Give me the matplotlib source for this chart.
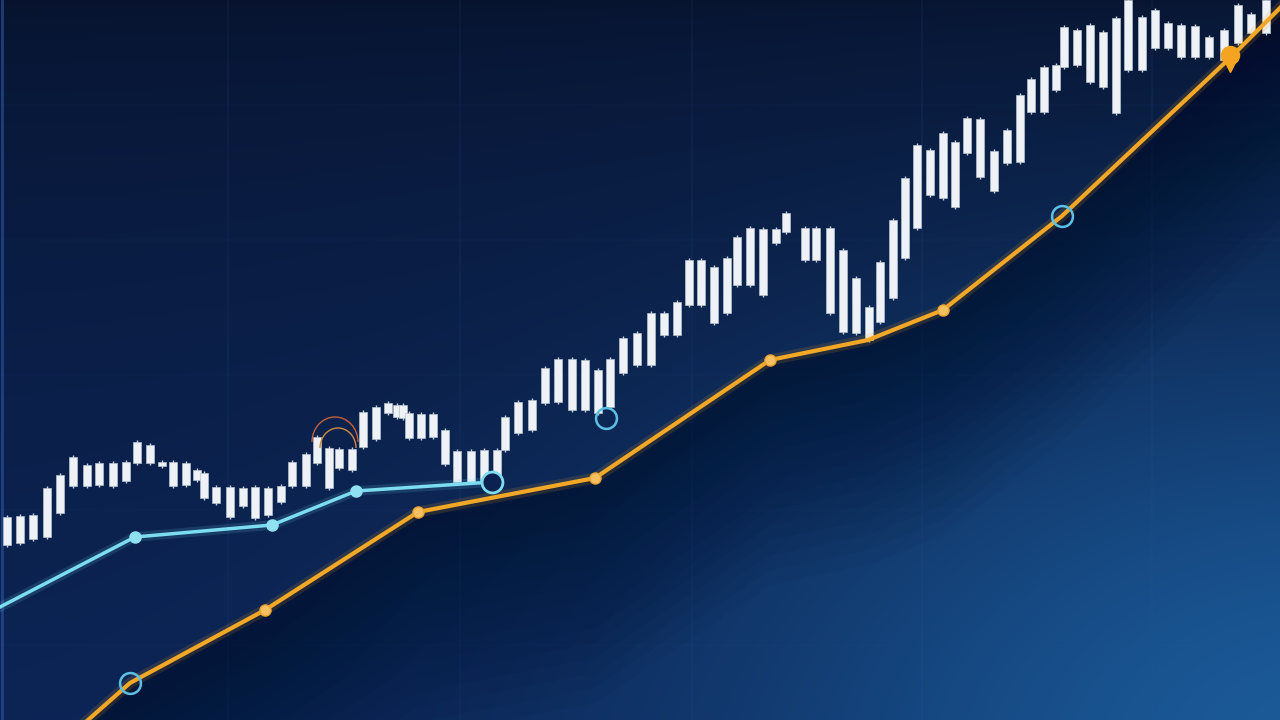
import numpy as np
import matplotlib
matplotlib.use("Agg")
import matplotlib.pyplot as plt
from matplotlib.colors import to_rgb
from matplotlib.patches import Arc

# candle positions and bodies (chart units, y up)
candle_x = [7, 20, 33, 47, 60, 73, 87, 99, 113, 126, 137, 150, 162, 173, 186, 197, 204,
            216, 230, 243, 255, 268, 281, 292, 306, 317, 329, 339, 352, 363, 376, 388,
            397, 403, 409, 421, 433, 445, 457, 471, 484, 497, 505, 518, 532, 545, 558,
            572, 585, 598, 610, 623, 637, 651, 664, 677, 689, 701, 714, 727, 737, 750,
            763, 776, 786, 805, 816, 830, 843, 856, 869, 880, 893, 905, 917, 930, 943,
            955, 967, 980, 994, 1007, 1020, 1031, 1044, 1056, 1064, 1077, 1090, 1103,
            1116, 1128, 1142, 1155, 1168, 1181, 1195, 1209, 1224, 1238, 1251, 1266]
body_hi = [203, 204, 205, 232, 245, 263, 255, 257, 257, 258, 278, 275, 258, 258, 257, 250, 247,
           233, 233, 232, 233, 232, 234, 258, 266, 283, 272, 271, 271, 308, 313, 317,
           315, 315, 307, 306, 306, 290, 269, 269, 270, 270, 303, 318, 320, 352, 361,
           361, 360, 350, 361, 382, 387, 407, 407, 418, 460, 460, 453, 462, 483, 492,
           491, 491, 507, 492, 492, 492, 470, 442, 413, 458, 500, 542, 575, 570, 587,
           578, 602, 601, 569, 590, 625, 641, 653, 655, 693, 690, 695, 688,
           702, 720, 703, 710, 697, 695, 694, 683, 690, 715, 706, 720]
body_lo = [175, 177, 181, 183, 207, 234, 234, 235, 234, 239, 257, 257, 254, 234, 235, 240, 222,
           217, 203, 214, 202, 205, 218, 234, 234, 257, 232, 252, 250, 273, 281, 307,
           303, 302, 282, 282, 283, 256, 238, 238, 238, 242, 270, 287, 290, 317, 318,
           310, 310, 307, 313, 347, 355, 355, 385, 385, 415, 415, 397, 407, 435, 435,
           425, 477, 488, 460, 460, 407, 388, 387, 380, 398, 422, 462, 492, 525, 522,
           513, 567, 543, 529, 557, 558, 608, 608, 630, 653, 655, 638, 633,
           607, 650, 650, 672, 672, 663, 663, 663, 660, 677, 687, 687]

# cyan average line
cyan_x = [0, 135, 272, 356, 492]
cyan_y = [113, 183, 195, 229, 238]

# orange trend line
orange_x = [88, 130, 265, 418, 595, 770, 868, 943, 1062, 1230, 1280]
orange_y = [0, 37, 110, 208, 242, 360, 380, 410, 504, 662, 712]

# extra ring on the candles
ring_x = [606]
ring_y = [302]

W, H = 1280, 720
fig = plt.figure(figsize=(12.8, 7.2), dpi=100)
ax = fig.add_axes([0, 0, 1, 1])
ax.set_xlim(0, W)
ax.set_ylim(0, H)
ax.axis("off")

# background gradient
u = np.linspace(0, 1, 640)[None, :]
v = np.linspace(0, 1, 360)[:, None]  # 0 = top
top = np.array(to_rgb("#07132e"))
mid = np.array(to_rgb("#0c2454"))
glow = np.array(to_rgb("#1b5a98"))
t = np.clip(v, 0, 1) ** 0.6
bg = top * (1 - t[..., None]) + mid * t[..., None]
g = np.exp(-((u - 1.05) ** 2 / 0.25 + (v - 1.05) ** 2 / 0.35))
bg = bg * (1 - g[..., None]) + glow * g[..., None]
bg = np.broadcast_to(bg, (360, 640, 3))
ax.imshow(bg, extent=[0, W, 0, H], origin="upper", aspect="auto", zorder=0)

# faint grid
for gx in [228, 460, 692, 922, 1152]:
    ax.axvline(gx, color="#2a5aa8", alpha=0.12, lw=1.2, zorder=1)
ax.axvline(2, color="#2d58a8", alpha=0.6, lw=2, zorder=1)
for gy in [615, 480, 345, 210, 75]:
    ax.axhline(gy, color="#2a5aa8", alpha=0.05, lw=1.2, zorder=1)

# shadow under the orange line
oy = np.array(orange_y)
for k in range(1, 16):
    ax.fill_between(orange_x, oy - k * 15, oy, color="#030d26", alpha=0.045, lw=0, zorder=2)

# candles
cx = np.array(candle_x)
hi = np.array(body_hi)
lo = np.array(body_lo)
ax.vlines(cx, lo - 2, hi + 2, color="#c8d2de", lw=1, zorder=3)
ax.bar(cx, hi - lo, bottom=lo, width=7.5, color="#eef2f6", edgecolor="#b4c0cc",
       linewidth=0.5, zorder=4)

# decorative arcs
ax.add_patch(Arc((335, 278), 46, 50, theta1=0, theta2=180, color="#c0603a", lw=1, zorder=4))
ax.add_patch(Arc((338, 272), 36, 40, theta1=0, theta2=180, color="#d08a40", lw=1, zorder=4))

# cyan line
ax.plot(cyan_x, cyan_y, color="#6fd3ea", lw=7, alpha=0.15, zorder=5)
ax.plot(cyan_x, cyan_y, color="#7cdcf0", lw=2.5, zorder=6)
ax.plot(cyan_x[1:4], cyan_y[1:4], "o", ms=8, color="#8fe0f0", zorder=7)
ax.plot(cyan_x[4:], cyan_y[4:], "o", ms=15, mfc="#0b2250", mec="#7cdcf0", mew=2, zorder=7)

# orange line
ax.plot(orange_x, orange_y, color="#f0a020", lw=8, alpha=0.15, zorder=5)
ax.plot(orange_x, orange_y, color="#f2a826", lw=3, zorder=6)
dots = [2, 3, 4, 5, 7]
ax.plot([orange_x[i] for i in dots], [orange_y[i] for i in dots], "o", ms=8,
        color="#f6c060", mec="#e8a030", zorder=7)
rings = [1, 8]
ax.plot([orange_x[i] for i in rings] + ring_x, [orange_y[i] for i in rings] + ring_y,
        "o", ms=15, mfc="none", mec="#5cc0e4", mew=1.8, zorder=7)
ax.plot(orange_x[9], orange_y[9] + 3, "o", ms=13, color="#f4a421", zorder=8)
ax.plot(orange_x[9], orange_y[9] - 6, "v", ms=12, color="#f4a421", zorder=8)

fig.savefig("out.png", dpi=100)
